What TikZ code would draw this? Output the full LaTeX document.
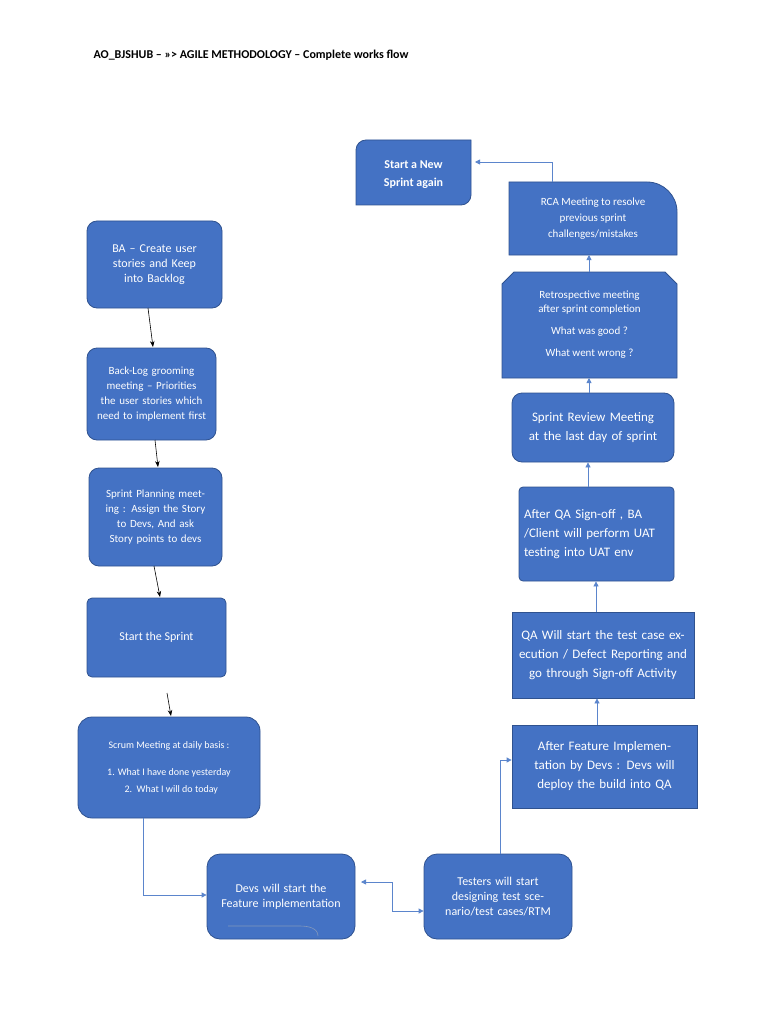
\documentclass[tikz,border=0pt]{standalone}
\usepackage{fontspec}
\setmainfont{Carlito}
\usetikzlibrary{arrows.meta}
\definecolor{bfill}{HTML}{4472C4}
\definecolor{bline}{HTML}{2F528F}
\definecolor{conn}{HTML}{5B85CC}
\begin{document}
\begin{tikzpicture}[x=1pt,y=-1pt,
  box/.style={fill=bfill,draw=bline,line width=0.8pt,text=white,align=center,inner sep=2pt,font=\fontsize{12}{15}\selectfont},
  rbox/.style={box,rounded corners=10pt},
  tbox/.style={text=white,align=center,font=\fontsize{12}{15}\selectfont},
  blk/.style={-{Stealth[length=6pt]},black,line width=0.6pt},
  bl/.style={-{Triangle[length=5pt,width=5pt]},conn,line width=0.8pt}]
\useasboundingbox (0,0) rectangle (768,1024);
\node[anchor=west,font=\bfseries\fontsize{12}{14}\selectfont] (title) at (90,55) {AO\_BJSHUB -- >>> AGILE METHODOLOGY – Complete works flow};
% left column
\node[rbox,minimum width=135,minimum height=87,text width=120] (ba) at (154.5,264.5) {BA – Create user stories and Keep into Backlog};
\node[rbox,minimum width=129,minimum height=92,text width=120,font=\fontsize{11}{15}\selectfont] (bg) at (151.5,394) {Back-Log grooming meeting – Priorities the user stories which need to implement first};
\node[rbox,minimum width=133,minimum height=98,text width=124,font=\fontsize{11}{15}\selectfont] (sp) at (155.5,517) {Sprint Planning meeting : Assign the Story to Devs, And ask Story points to devs};
\node[box,rounded corners=5pt,minimum width=139,minimum height=79] (ss) at (156.5,637.5) {Start the Sprint};
\node[rbox,rounded corners=14pt,minimum width=182,minimum height=101,font=\fontsize{10}{13}\selectfont] (sc) at (169,767.5) {Scrum Meeting at daily basis :\\[14pt]1. What I have done yesterday\\[4pt]\ \ 2.\ \ What I will do today};
% bottom
\node[rbox,rounded corners=13pt,minimum width=148,minimum height=85,text width=130] (dv) at (281,896.5) {Devs will start the Feature implementation\\[12pt]};
\draw[bline!60!white,line width=0.6pt] (228,926) -- (300,926) to[out=0,in=90] (318,936);
\node[rbox,rounded corners=13pt,minimum width=148,minimum height=85,text width=120] (ts) at (498,896.5) {Testers will start designing test scenario/test cases/RTM};
% right column
\node[box,minimum width=185,minimum height=83,text width=170,font=\fontsize{13}{19}\selectfont] (af) at (604.5,766.5) {After Feature Implementation by Devs : Devs will deploy the build into QA};
\node[box,minimum width=182,minimum height=86,text width=170,font=\fontsize{13}{19}\selectfont] (qa) at (603,655) {QA Will start the test case execution / Defect Reporting and go through Sign-off Activity};
\node[box,rounded corners=4pt,minimum width=155,minimum height=94,text width=145,align=left,font=\fontsize{13}{19}\selectfont] (uat) at (596.5,534) {After QA Sign-off , BA /Client will perform UAT testing into UAT env};
\node[rbox,minimum width=162,minimum height=69,text width=150,font=\fontsize{13}{19}\selectfont] (rv) at (593,427.5) {Sprint Review Meeting at the last day of sprint};
% retro: snipped top corners
\fill[bfill,draw=bline,line width=0.8pt] (514,272) -- (665,272) -- (677,284) -- (677,378) -- (502,378) -- (502,284) -- cycle;
\node[tbox,minimum width=175,minimum height=106,font=\fontsize{11}{14}\selectfont] (rt) at (589.5,325) {Retrospective meeting\\after sprint completion\\[8pt]What was good ?\\[8pt]What went wrong ?};
% RCA: rounded top-right
\fill[bfill,draw=bline,line width=0.8pt] (509,182) -- (647,182) arc[start angle=-90,end angle=0,radius=30] -- (677,255) -- (509,255) -- cycle;
\node[tbox,minimum width=168,minimum height=73,font=\fontsize{11}{16}\selectfont] (rca) at (593,218.5) {RCA Meeting to resolve\\previous sprint\\challenges/mistakes};
% new sprint: rounded TL and BR
\fill[bfill,draw=bline,line width=0.8pt] (471,140) -- (471,195) arc[start angle=0,end angle=90,radius=10] -- (356,205) -- (356,150) arc[start angle=180,end angle=270,radius=10] -- cycle;
\node[tbox,minimum width=115,minimum height=65,anchor=north,font=\bfseries\fontsize{12}{18}\selectfont] (ns) at (413.5,142) {Start a New\\Sprint again};
% connectors
\draw[blk] (148,308) -- (153,347);
\draw[blk] (155,440) -- (158,467);
\draw[blk] (154,566) -- (160,597);
\draw[blk] (167,693) -- (171,716);
\draw[bl] (sc.south -| 143,0) |- (dv.west |- 0,895);
\draw[bl,{Triangle[length=5pt,width=5pt]}-{Triangle[length=5pt,width=5pt]}] (361,882) -- (392,882) |- (ts.west |- 0,911);
\draw[bl] (ts.north -| 500,0) |- (af.west |- 0,760);
\draw[bl] (af.north -| 597,0) -- (qa.south -| 597,0);
\draw[bl] (qa.north -| 596,0) -- (uat.south -| 596,0);
\draw[bl] (uat.north -| 588,0) -- (rv.south -| 588,0);
\draw[bl] (rv.north -| 589,0) -- (589,378);
\draw[bl] (589,272) -- (589,255);
\draw[bl] (552,182) -- (552,162) -- (475,162);
\end{tikzpicture}
\end{document}
